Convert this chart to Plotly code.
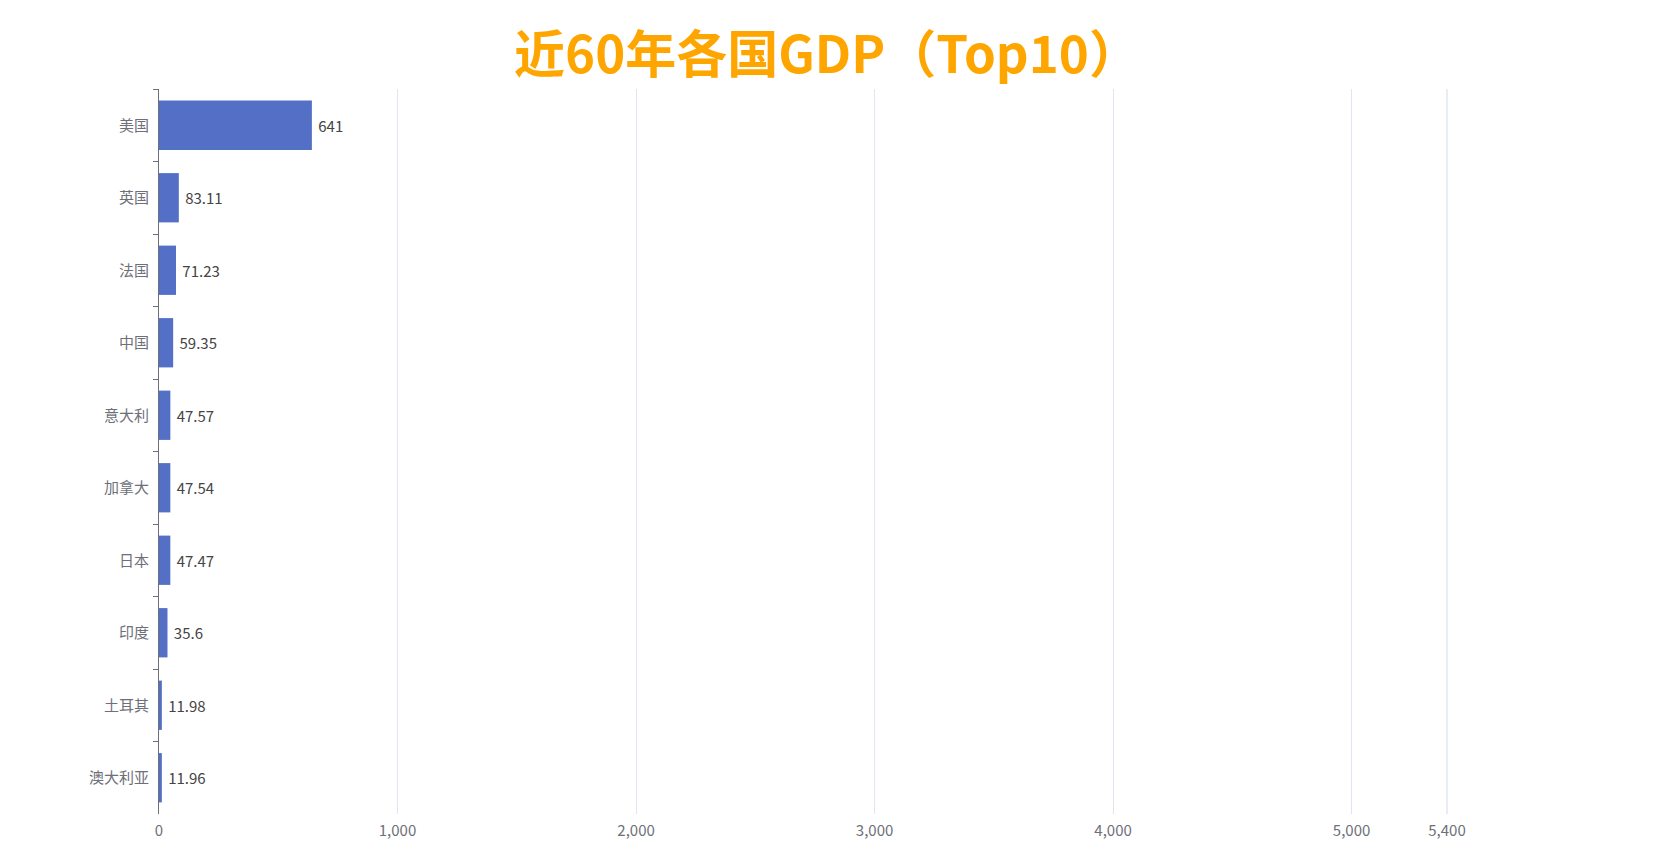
import plotly.graph_objects as go

countries = ['美国', '英国', '法国', '中国', '意大利', '加拿大', '日本', '印度', '土耳其', '澳大利亚']
gdp = [641, 83.11, 71.23, 59.35, 47.57, 47.54, 47.47, 35.6, 11.98, 11.96]
x_ticks = [0, 1000, 2000, 3000, 4000, 5000, 5400]
x_tick_text = ['0', '1,000', '2,000', '3,000', '4,000', '5,000', '5,400']

font_cjk = '"Microsoft YaHei", "Noto Sans CJK SC", sans-serif'

# page body has an 8px default margin, so the figure is sized to fit inside it
fig_w, fig_h = 1638, 850

bar_trace = go.Bar(
    x=gdp, y=countries,
    orientation='h',
    marker=dict(color='#5470c6', line_width=0),
    text=['\u00a0' + f'{v:g}' for v in gdp],
    textposition='outside',
    cliponaxis=False,
    textfont=dict(size=15, color='#444', family=font_cjk),
    hoverinfo='x+y')

fig = go.Figure(data=[bar_trace],
                layout=go.Layout(
                    width=fig_w, height=fig_h,
                    showlegend=False,
                    plot_bgcolor='white',
                    paper_bgcolor='white',
                    bargap=0.32,
                    margin=dict(l=151, r=199, t=81, b=44),
                    font=dict(family=font_cjk, color='#6E7079', size=15),
                    title=dict(
                        text='<b>近60年各国GDP（Top10）</b>',
                        x=0.5, xanchor='center',
                        y=1 - 47 / fig_h, yanchor='middle',
                        font=dict(size=51, color='#FFA500', family=font_cjk))))

fig.update_xaxes(
    range=[0, x_ticks[-1]],
    tickvals=x_ticks, ticktext=x_tick_text,
    showgrid=True, gridcolor='#E0E6F1', gridwidth=1,
    zeroline=False, showline=False,
    ticks='', ticklabelstandoff=6,
    tickfont=dict(size=15, color='#6E7079'))

# the 5,400 gridline lies on the right edge of the plot, so draw it unclipped
fig.add_shape(type='line', xref='paper', yref='paper',
              x0=1, x1=1, y0=0, y1=1,
              line=dict(color='#E0E6F1', width=1.5), layer='below')

fig.update_yaxes(
    autorange='reversed',
    showline=True, linecolor='#6E7079', linewidth=1,
    ticks='outside', tickson='boundaries', ticklen=5, tickcolor='#6E7079',
    ticklabelstandoff=6,
    showgrid=False, zeroline=False,
    tickfont=dict(size=15, color='#6E7079'))

fig.write_html("out.html")
